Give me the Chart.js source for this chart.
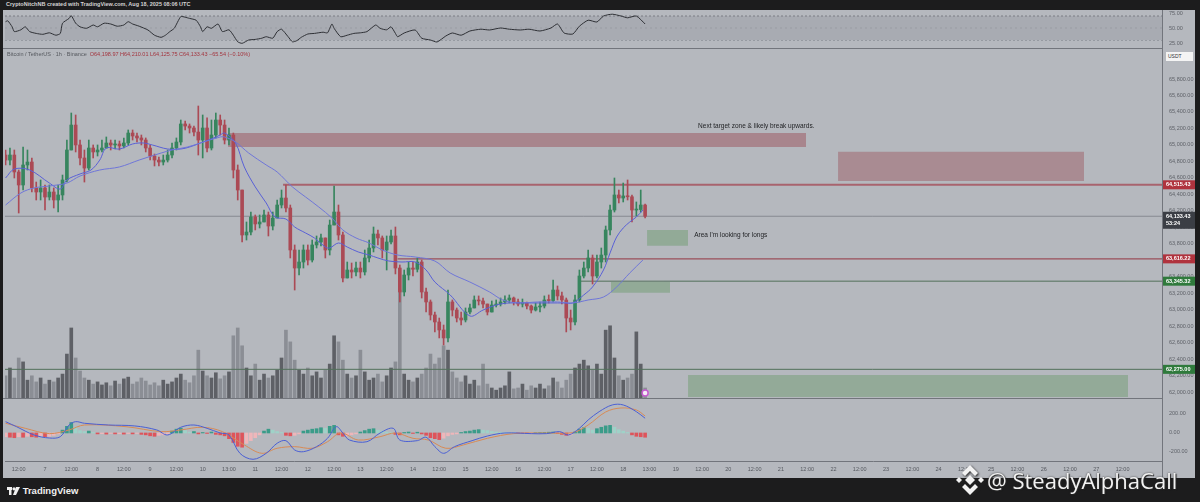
<!DOCTYPE html>
<html>
<head>
<meta charset="utf-8">
<script src="https://cdn.jsdelivr.net/npm/chart.js@4.4.1/dist/chart.umd.min.js"></script>
<style>
  body { margin: 0; width: 1200px; height: 502px; background: #1c1c1d; position: relative; overflow: hidden;
         font-family: "Liberation Sans", Arial, sans-serif; }
  .abs { position: absolute; }
  canvas { position: absolute; left: 0; }
  #panel { left: 3px; top: 10px; width: 1192px; height: 468px; background: #b5b8be; }
  .sep { left: 3px; width: 1159px; height: 1px; background: #72757c; }
  #vline { left: 1162px; top: 10px; width: 1px; height: 468px; background: #72757c; }
  #hdr { left: 6px; top: 1px; font-size: 5.5px; font-weight: bold; color: #d4d4d4; }
  #legend { left: 7px; top: 51px; font-size: 5.5px; color: #55585e; }
  #legend b { font-weight: normal; color: #a3353f; }
  #usdt { left: 1166px; top: 52px; width: 27px; height: 9px; background: #f4f4f4; font-size: 5px; color: #333;
          line-height: 9px; padding-left: 2px; box-sizing: border-box; }
  #wm { left: 987px; top: 465px; font-family: "Open Sans", "Noto Sans", sans-serif; font-size: 22px; color: #f2f2f2;
        text-shadow: 0 0 2px #333, 1px 1px 1px #222; white-space: nowrap; }
  #bnb { left: 955px; top: 463px; filter: drop-shadow(1px 1px 1px #222); }
  #tv { left: 7px; top: 485px; font-size: 9.5px; font-weight: bold; color: #f0f0f0; }
</style>
</head>
<body>
<div id="panel" class="abs"></div>
<div id="hdr" class="abs">CryptoNitchNB created with TradingView.com, Aug 18, 2025 08:06 UTC</div>

<canvas id="rsi" width="1195" height="38" style="top:10px"></canvas>
<canvas id="main" width="1195" height="348" style="top:50px"></canvas>
<canvas id="macd" width="1195" height="80" style="top:398px"></canvas>

<div class="abs sep" style="top:48px"></div>
<div class="abs sep" style="top:398px"></div>
<div id="vline" class="abs"></div>
<div id="legend" class="abs">Bitcoin / TetherUS · 1h · Binance &nbsp;<b>O64,198.97 H64,210.01 L64,125.75 C64,133.43 −65.54 (−0.10%)</b></div>
<div id="usdt" class="abs">USDT</div>

<svg id="bnb" class="abs" width="30" height="34" viewBox="0 0 30 34">
  <g fill="#f2f2f2">
    <polygon points="15,12 20,17 15,22 10,17"/>
    <polygon points="15,2 23,10 20,13 15,8 10,13 7,10"/>
    <polygon points="15,32 23,24 20,21 15,26 10,21 7,24"/>
    <polygon points="4,14 7,17 4,20 1,17"/>
    <polygon points="26,14 29,17 26,20 23,17"/>
  </g>
</svg>
<div id="wm" class="abs">@ SteadyAlphaCall</div>
<div id="tv" class="abs"><svg width="13" height="8" viewBox="0 0 13 8" style="vertical-align:-1px"><rect x="0" y="0" width="5" height="3" fill="#f0f0f0"/><rect x="2" y="0" width="2.5" height="8" fill="#f0f0f0"/><circle cx="7" cy="1.8" r="1.6" fill="#f0f0f0"/><polygon points="9,0 13,0 9,8 6,8" fill="#f0f0f0"/></svg> TradingView</div>

<script>
// ---- time axis (hours counted from Aug 6 00:00) ----
const xMin = 5.74;
const xMax = 534;
const barStart = 6;   // first 2h candle
const barStep = 2;
const firstOpen = 64877;

// ---- price candles (2h) ----
const closes = [
  64816,64877,64671,64513,64756,64792,64477,64428,64477,64367,
  64428,64331,64392,64574,64938,65241,64999,64841,64719,64962,
  64914,64938,64962,65023,64999,65011,64987,65023,65144,65108,
  65084,65059,64962,64865,64816,64792,64816,64877,64962,65035,
  65254,65229,65205,65156,65059,65205,64962,65120,65302,65241,
  65059,65120,64695,64452,63906,63942,64125,64040,64064,64149,
  64015,64112,64270,64355,64234,63724,63505,63578,63724,63602,
  63785,63821,63870,63724,64027,64185,63906,63384,63481,63457,
  63505,63457,63627,63748,63918,63870,63724,63821,63894,63505,
  63214,63420,63505,63490,63578,63214,63093,62935,62850,62753,
  62656,63093,62995,62898,62874,62971,63020,63117,63105,63068,
  62971,63056,63068,63093,63117,63141,63093,63068,63081,63044,
  62995,63032,63044,63117,63110,63238,63166,63117,62898,62850,
  63117,63408,63505,63627,63408,63578,63663,63967,64209,64392,
  64355,64380,64370,64209,64215,64270,64133.43
];
const highs = [
  64938,64962,64938,64695,64974,64938,64841,64549,64574,64513,
  64513,64477,64513,64634,65059,65387,65363,65059,64938,65059,
  64999,64999,65059,65096,65059,65059,65047,65084,65181,65181,
  65144,65120,65084,64999,64889,64853,64877,64938,65023,65084,
  65302,65290,65254,65229,65472,65363,65327,65302,65387,65363,
  65302,65205,65144,64756,64452,64064,64185,64149,64149,64209,
  64185,64185,64331,64452,64513,64270,63785,63724,63785,63785,
  63845,63894,63918,63870,64088,64501,64270,63942,63578,63566,
  63578,63578,63724,63845,64003,63967,63894,63894,63967,64003,
  63542,63481,63578,63578,63627,63602,63263,63117,62971,62898,
  62813,63238,63117,63020,62971,63020,63068,63166,63166,63141,
  63068,63105,63117,63141,63166,63178,63153,63129,63129,63093,
  63056,63081,63093,63166,63178,63360,63287,63214,63141,62995,
  63178,63481,63578,63724,63663,63663,63748,64015,64270,64598,
  64452,64537,64574,64392,64307,64452,64282
];
const lows = [
  64756,64756,64598,64173,64452,64695,64428,64331,64331,64209,
  64331,64234,64185,64331,64549,64938,64914,64756,64549,64695,
  64841,64865,64914,64962,64938,64950,64938,64962,64999,65059,
  65035,64999,64914,64816,64744,64744,64756,64792,64841,64938,
  64999,65181,65144,65108,64877,64841,64914,64938,65084,65120,
  65011,64999,64598,64331,63821,63845,63906,63967,63991,64064,
  63894,63967,64112,64234,64185,63627,63238,63420,63505,63542,
  63578,63748,63772,63627,63663,64027,63845,63335,63384,63384,
  63408,63384,63420,63578,63700,63785,63627,63481,63797,63433,
  63093,63166,63360,63408,63457,63141,62971,62874,62729,62656,
  62571,62607,62923,62850,62813,62850,62947,63044,63056,63020,
  62935,62995,63032,63044,63068,63081,63056,63044,63032,63008,
  62959,62983,62971,63020,63081,63093,63117,63068,62729,62753,
  62813,63093,63384,63457,63311,63384,63505,63578,63906,64185,
  64295,64307,64331,64064,64137,64185,64112
];
const volumes = [
  510,690,460,920,830,410,510,370,460,320,
  410,370,460,550,1010,1610,920,620,460,410,
  320,370,300,350,280,390,320,440,480,320,
  370,460,390,300,350,280,410,320,370,460,
  550,410,350,510,1100,620,510,460,580,440,
  510,600,1430,1610,1200,690,510,780,410,550,
  460,510,640,920,1560,1290,870,640,550,690,
  510,600,460,640,780,1430,1290,870,550,460,
  510,1100,600,410,460,550,370,510,690,830,
  2480,550,410,370,460,550,690,1010,780,920,
  1200,1100,600,460,370,510,320,410,280,780,
  320,230,180,230,280,600,210,230,320,180,
  280,230,320,210,280,460,370,230,410,550,
  690,780,870,740,640,780,550,1560,1660,920,
  510,410,460,550,1520,780,230
];

// ---- moving averages ----
const fastHours = [6,10,17,26,31,34,40,45,49,52,58,64,69,73,80,86,90,95,101,104,106,111,115,120,125,129,134,138,143,147,152,154,158,162,167,172,176,181,187,193,198,202,209,218,224,230,236,246,255,261,265,270,274,279,282,285,288,291,294,297];
const fastValues = [64598,64707,64695,64537,64464,64574,64647,64695,64816,64962,64950,65011,65023,64999,64950,64950,64974,65023,65084,65120,65144,65023,64732,64490,64295,64125,64100,64003,63930,63870,63760,63748,63809,63760,63700,63663,63627,63590,63578,63578,63481,63335,63178,62923,62995,63056,63081,63081,63081,63081,63081,63178,63275,63481,63688,63882,63991,64064,64125,64209];
const slowHours = [6,13,19,26,34,40,49,58,67,77,82,89,95,104,106,111,117,125,130,137,143,149,155,160,166,172,178,185,193,202,209,218,227,233,240,249,258,265,272,279,285,291,297];
const slowValues = [64270,64416,64477,64501,64537,64622,64695,64732,64816,64901,64938,64974,65023,65096,65096,65035,64901,64756,64671,64489,64367,64246,64112,63967,63870,63809,63724,63663,63639,63590,63445,63335,63214,63117,63081,63093,63093,63081,63117,63153,63275,63445,63602];

// ---- RSI ----
const rsiHours = [6,7,9,10,13,15,17,20,23,26,29,31,32,35,36,38,40,43,46,48,51,54,57,60,62,64,67,71,74,77,79,81,83,86,88,90,93,95,96,98,100,103,105,108,110,112,114,117,120,123,125,128,130,132,135,137,139,141,144,147,151,153,155,156,159,162,165,168,171,175,177,180,182,184,185,188,193,196,200,203,207,210,214,218,223,227,232,236,241,245,250,255,258,261,265,268,272,276,279,283,287,290,294,298];
const rsiValues = [60.5,62,52,44,47,52,44,41,39.5,42,38,41,58,66,70.5,58,52,49.5,55,52,58,56.7,53,55,60.5,56.7,53,46.7,38,34.5,38,44,49.5,69,68,66,63,52,44,52,49.5,56.7,44,47,38,27,24.5,30,31,33,35.5,33,44,48,35.5,27,29,34.5,40,41,43,42,56.7,49.5,35.5,38,41,42,44,55,49.5,47,52,41,35.5,41.7,46.7,33,30,26.7,36.7,41.7,38,45,48,46.7,50,48,46.7,48,45,50,56.7,41.7,40,53,63,60,70,73,70,67,70,56.7];
const rsiBand = [30, 70];
const rsiMid = 50;

// ---- MACD ----
const macdHours = [6,11,19,26,31,35,38,42,53,65,75,80,86,92,98,104,108,113,119,125,130,134,138,142,148,153,157,160,163,171,177,183,186,194,198,202,206,211,219,226,234,246,253,259,263,268,272,277,283,288,294,298];
const macdValues = [119,66,-21,-53,-39,84,119,102,84,74,32,-21,60,84,49,0,-21,-214,-277,-214,-108,-81,-179,-197,-144,-56,66,0,-74,-92,0,49,-74,-81,-45,-144,-214,-144,-81,-32,0,-7,-7,14,-21,49,137,224,295,295,224,155];
const signalHours = [6,15,26,35,42,61,77,86,96,105,115,123,130,138,146,153,159,167,177,184,192,199,207,215,226,238,253,265,272,280,287,294,298];
const signalValues = [102,49,-7,32,84,66,14,32,60,14,-126,-214,-161,-144,-161,-92,0,-74,-39,0,-56,-74,-161,-126,-56,-7,0,4,84,221,263,242,179];
const histValues = [
  -40,-45,-50,-40,-45,-35,-40,-45,-30,-40,
  -35,-25,-10,30,70,110,60,25,15,20,
  5,-10,-8,-12,-5,-10,-8,-12,-6,-10,
  -5,-15,-20,-30,-35,-25,-20,-10,20,40,
  50,25,10,15,-10,5,-5,10,-15,-20,
  -30,-60,-100,-140,-150,-110,-80,-50,-20,20,
  40,30,15,5,-25,-30,-25,-10,20,30,
  40,45,55,50,70,80,-20,-35,-30,-20,
  -10,10,25,40,45,30,20,10,5,-15,
  -20,5,10,-5,8,-10,-25,-50,-60,-70,
  -55,-30,-15,-10,5,15,20,30,35,30,
  25,15,10,8,5,3,2,-2,-3,-5,
  -4,2,4,5,8,10,-5,-15,-25,-20,
  10,40,55,50,30,45,60,75,80,60,
  35,20,5,-20,-35,-40,-45
];

// ---- axis ticks ----
const priceTicks = [62000,62200,62400,62600,62800,63000,63200,63400,63600,63800,64000,64200,64400,64600,64800,65000,65200,65400,65600,65800];
const rsiTicks = [25, 50, 75];
const macdTicks = [-200, 0, 200];
const tickHours = [12,24,36,48,60,72,84,96,108,120,132,144,156,168,180,192,204,216,228,240,252,264,276,288,300,312,324,336,348,360,372,384,396,408,420,432,444,456,468,480,492,504,516];
const tickLabels = ['12:00','7','12:00','8','12:00','9','12:00','10','13:00','11','12:00','12','12:00','13','12:00','14','12:00','15','12:00','16','12:00','17','12:00','18','13:00','19','12:00','20','12:00','21','12:00','22','12:00','23','12:00','24','12:00','25','12:00','26','12:00','27','12:00'];

// ---- drawings ----
const zoneStart = [107.6, 386.1, 298.9, 282.4, 317.6];
const zoneEnd   = [371.5, 498.4, 317.6, 309.4, 518.5];
const zoneLow   = [64974, 64561, 63775, 63205, 61939];
const zoneHigh  = [65144, 64917, 63967, 63335, 62206];
const levelPrices = [64515.43, 64133.43, 63616.22, 63345.32, 62275.00];
const levelStart  = [132.7, 5.74, 185, 267.4, 5.74];
const noteText   = ['Next target zone & likely break upwards.', "Area I'm looking for longs"];
const noteHours  = [322.2, 320.4];
const notePrices = [65229, 63906];
const markerHour = 298;
const markerVol = 115;

// ---- styles ----
const FONT = '"Liberation Sans", Arial, sans-serif';
const UP = '#37855e', DOWN = '#ab4a55';
const zoneColor = ['#a8858d', '#a98b92', '#92aa97', '#92aa97', '#93aa98'];
const levelColor = ['#a8636e', '#868991', '#9b4f5a', '#52705a', '#52705a'];
const levelWidth = [2, 1, 1.3, 1, 1];
const tagColor = ['#b0333e', '#3b3e45', '#b0333e', '#2f7a3c', '#2f7a3c'];
const tagSub = ['', '53:24', '', '', ''];

Chart.defaults.font.family = FONT;
Chart.defaults.animation = false;
Chart.defaults.plugins.legend.display = false;
Chart.defaults.plugins.tooltip.enabled = false;

const fmt2 = v => Number(v).toLocaleString('en-US', { minimumFractionDigits: 2, maximumFractionDigits: 2 });
const pts = (xs, ys) => xs.map((x, i) => ({ x: x, y: ys[i] }));
const barHour = i => barStart + i * barStep;

// scale label padding would otherwise shrink the plot area
function noPad(s) { s.paddingTop = 0; s.paddingBottom = 0; s.paddingLeft = 0; s.paddingRight = 0; }

function xAxis(show) {
  const ax = { type: 'linear', min: xMin, max: xMax, offset: false, display: show,
               grid: { display: false, drawTicks: false }, border: { color: '#72757c' } };
  if (show) {
    ax.afterBuildTicks = s => { s.ticks = tickHours.map(v => ({ value: v })); };
    ax.afterFit = s => { s.height = 17; noPad(s); };
    ax.ticks = { autoSkip: false, maxRotation: 0, padding: 5, color: '#55585f', font: { size: 5.5 },
                 callback: (v, i) => tickLabels[i] };
  }
  return ax;
}
function yAxis(min, max, ticks) {
  return { position: 'right', min: min, max: max, grid: { display: false, drawTicks: false },
           border: { color: '#72757c' }, afterFit: s => { s.width = 33; noPad(s); },
           afterBuildTicks: s => { s.ticks = ticks.map(v => ({ value: v })); },
           ticks: { padding: 7, color: '#5f6269', font: { size: 5.5 }, callback: fmt2 } };
}
const baseLayout = { autoPadding: false, padding: { left: 5, right: 0, top: 0, bottom: 0 } };

// ---------- RSI pane ----------
new Chart(document.getElementById('rsi'), {
  type: 'line',
  data: { datasets: [
    { data: pts(rsiHours, rsiValues), borderColor: '#2e3035', borderWidth: 1, pointRadius: 0, tension: 0.2, order: 0 },
    { data: [{ x: xMin, y: rsiBand[0] }, { x: xMax, y: rsiBand[0] }], borderColor: '#7b7e85', borderWidth: 1, borderDash: [2, 2], pointRadius: 0, order: 3 },
    { data: [{ x: xMin, y: rsiBand[1] }, { x: xMax, y: rsiBand[1] }], borderColor: '#7b7e85', borderWidth: 1, borderDash: [2, 2], pointRadius: 0, fill: '-1', backgroundColor: '#a8abb2', order: 2 },
    { data: [{ x: xMin, y: rsiMid }, { x: xMax, y: rsiMid }], borderColor: '#999ca3', borderWidth: 1, borderDash: [2, 3], pointRadius: 0, order: 1 }
  ] },
  options: { responsive: false, devicePixelRatio: 1, layout: baseLayout,
             scales: { x: xAxis(false), y: yAxis(16.7, 80, rsiTicks) } }
});

// ---------- price pane ----------
const opens = closes.map((c, i) => i === 0 ? firstOpen : closes[i - 1]);
const candleColor = closes.map((c, i) => c >= opens[i] ? UP : DOWN);
const volColor = closes.map((c, i) => c >= opens[i] ? '#5e6066' : '#8b8e95');

const priceSets = [];
zoneStart.forEach((s, k) => {
  priceSets.push({ type: 'line', data: [{ x: s, y: zoneLow[k] }, { x: zoneEnd[k], y: zoneLow[k] }],
                   borderWidth: 0, pointRadius: 0, fill: false, order: 20 });
  priceSets.push({ type: 'line', data: [{ x: s, y: zoneHigh[k] }, { x: zoneEnd[k], y: zoneHigh[k] }],
                   borderWidth: 0, pointRadius: 0, fill: '-1', backgroundColor: zoneColor[k], order: 20 });
});
priceSets.push({ type: 'bar', yAxisID: 'yv', grouped: false, barThickness: 3, order: 15,
                 data: volumes.map((v, i) => ({ x: barHour(i), y: v })), backgroundColor: volColor });
levelPrices.forEach((p, k) => {
  priceSets.push({ type: 'line', data: [{ x: levelStart[k], y: p }, { x: xMax, y: p }],
                   borderColor: levelColor[k], borderWidth: levelWidth[k], pointRadius: 0, order: 6 });
});
priceSets.push({ type: 'bar', grouped: false, barThickness: 1, order: 3, backgroundColor: candleColor,
                 data: closes.map((c, i) => ({ x: barHour(i),
                   y: [Math.min(lows[i], opens[i], c), Math.max(highs[i], opens[i], c)] })) });
priceSets.push({ type: 'bar', grouped: false, barThickness: 3, minBarLength: 1, order: 2, backgroundColor: candleColor,
                 data: closes.map((c, i) => ({ x: barHour(i), y: [opens[i], c] })) });
priceSets.push({ type: 'line', data: pts(slowHours, slowValues), borderColor: '#6f76d8', borderWidth: 1, pointRadius: 0, tension: 0.35, order: 1 });
priceSets.push({ type: 'line', data: pts(fastHours, fastValues), borderColor: '#5960d6', borderWidth: 1, pointRadius: 0, tension: 0.35, order: 1 });
priceSets.push({ type: 'line', yAxisID: 'yv', showLine: false, data: [{ x: markerHour, y: markerVol }],
                 pointRadius: 3, pointBorderWidth: 1.5, pointBorderColor: '#c65bd0', pointBackgroundColor: '#f6eaf7', order: 0 });

const axisTags = {
  id: 'axisTags',
  afterDraw(chart) {
    const { ctx, chartArea: a, scales: { y } } = chart;
    ctx.save();
    ctx.font = 'bold 5.5px ' + FONT;
    ctx.textBaseline = 'middle';
    levelPrices.forEach((p, k) => {
      const py = y.getPixelForValue(p);
      ctx.fillStyle = tagColor[k];
      ctx.fillRect(a.right + 1, py - 4.5, 32, tagSub[k] ? 17 : 9);
      ctx.fillStyle = '#ffffff';
      ctx.fillText(fmt2(p), a.right + 4, py);
      if (tagSub[k]) ctx.fillText(tagSub[k], a.right + 4, py + 7.5);
    });
    ctx.restore();
  }
};
const notes = {
  id: 'notes',
  afterDatasetsDraw(chart) {
    const { ctx, scales: { x, y } } = chart;
    ctx.save();
    ctx.font = '6.5px ' + FONT;
    ctx.fillStyle = '#1e1f22';
    ctx.textBaseline = 'middle';
    noteText.forEach((t, k) => ctx.fillText(t, x.getPixelForValue(noteHours[k]), y.getPixelForValue(notePrices[k])));
    ctx.restore();
  }
};

new Chart(document.getElementById('main'), {
  type: 'bar',
  data: { datasets: priceSets },
  options: { responsive: false, devicePixelRatio: 1, layout: baseLayout,
             scales: { x: xAxis(false), y: yAxis(61927, 66152, priceTicks),
                       yv: { display: false, min: 0, max: 8000 } } },
  plugins: [axisTags, notes]
});

// ---------- MACD pane ----------
const histColor = histValues.map((v, i) => {
  const prev = i ? histValues[i - 1] : v;
  if (v >= 0) return v >= prev ? '#3a9c89' : '#9fd2c8';
  return v < prev ? '#de545b' : '#efb6ba';
});
new Chart(document.getElementById('macd'), {
  type: 'bar',
  data: { datasets: [
    { type: 'bar', grouped: false, barThickness: 3, order: 3, backgroundColor: histColor,
      data: histValues.map((v, i) => ({ x: barHour(i), y: v })) },
    { type: 'line', data: pts(signalHours, signalValues), borderColor: '#d88a55', borderWidth: 1, pointRadius: 0, tension: 0.35, order: 2 },
    { type: 'line', data: pts(macdHours, macdValues), borderColor: '#4a5fd4', borderWidth: 1, pointRadius: 0, tension: 0.35, order: 1 }
  ] },
  options: { responsive: false, devicePixelRatio: 1,
             layout: { autoPadding: false, padding: { left: 5, right: 0, top: 2, bottom: 0 } },
             scales: { x: xAxis(true), y: yAxis(-295, 347, macdTicks) } }
});
</script>
</body>
</html>
